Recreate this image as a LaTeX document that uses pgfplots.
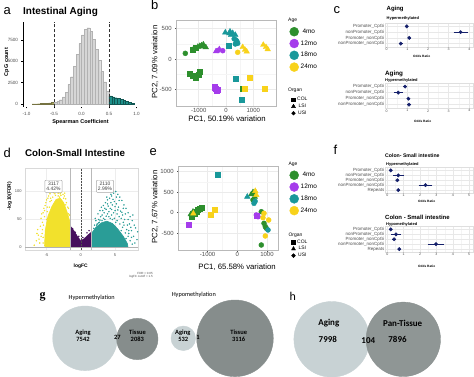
\documentclass[border=0pt]{standalone}
\usepackage{pgfplots}
\pgfplotsset{compat=1.18}
\usepackage{fontspec}
\setmainfont{Liberation Sans}
\newfontfamily\carlito{Carlito}
\newfontfamily\lserif{Liberation Serif}
\definecolor{g4}{HTML}{2D8F2D}
\definecolor{p12}{HTML}{A53CEB}
\definecolor{t18}{HTML}{19989A}
\definecolor{y24}{HTML}{F8D21B}
\definecolor{vy}{HTML}{F2E12C}
\definecolor{vp}{HTML}{46105E}
\definecolor{vt}{HTML}{2A9D97}
\definecolor{hteal}{HTML}{1C8F89}
\definecolor{holive}{HTML}{A7A35E}
\definecolor{navy}{HTML}{15206B}
\definecolor{agc}{HTML}{C8D2D4}
\definecolor{tsc}{HTML}{868D8C}
\definecolor{tk}{HTML}{4D4D4D}
\newcommand{\fs}[1]{\fontsize{#1}{#1}\selectfont}
\pgfplotsset{
  every axis/.append style={scale only axis, anchor=north west,
    /pgf/number format/assume math mode=true, /pgf/number format/1000 sep={}, scaled ticks=false},
  pca/.style={
    width=100bp, axis line style={gray!55, line width=0.6bp},
    grid=both, minor tick num=1,
    major grid style={gray!16, line width=0.5bp}, minor grid style={gray!8, line width=0.3bp},
    tick align=outside, major tick length=1.5bp, minor tick length=0pt, tick pos=left,
    tick style={gray!60!black, line width=0.4bp},
    tick label style={font=\fs{6}, text=tk},
    xticklabel style={inner sep=0.6bp},
    xtick={-1000,0,1000},
    legend image code/.code={\draw[##1] plot coordinates {(0bp,0bp)};},
    legend style={draw=none, fill=none, inner sep=0pt, font=\fs{6.5}, row sep=2.8bp, column sep=1bp, nodes={inner sep=1bp}},
  },
  orglegend/.style={hide axis, width=5bp, height=5bp, xmin=0, xmax=1, ymin=0, ymax=1,
    legend image code/.code={\draw[##1] plot coordinates {(0bp,0bp)};},
    legend style={at={(0,1)}, anchor=north west, draw=none, fill=none, inner sep=0pt, font=\fs{5}, row sep=0.4bp, column sep=1bp, nodes={inner sep=0.7bp}}},
  sq/.style={only marks, mark=square*, mark size=2.5bp, forget plot},
  tri/.style={only marks, mark=triangle*, mark size=3.2bp, forget plot},
  ci/.style={only marks, mark=*, mark size=2.5bp, forget plot},
  forest/.style={width=87.5bp, y dir=reverse, axis line style={gray!25, line width=0.3bp},
    xmajorgrids, ymajorgrids, xminorgrids, minor x tick num=1,
    major grid style={gray!18, line width=0.4bp}, minor grid style={gray!9, line width=0.3bp},
    major tick length=0pt, minor tick length=0pt,
    xticklabel style={font=\fs{3.6}, text=tk, inner sep=1bp},
    yticklabel style={font=\fs{4.5}, text=tk, inner sep=1bp},
    ytick={1,2,3,4,5}},
  fpt/.style={only marks, mark=*, mark size=1.7bp, color=navy,
    error bars/.cd, x dir=both, x explicit,
    error bar style={line width=0.5bp, navy}, error mark options={mark size=1.1bp, navy, line width=0.5bp}},
  overlay/.style={at={(0bp,377bp)}, width=474bp, height=377bp, xmin=0, xmax=474, ymin=0, ymax=377,
    y dir=reverse, hide axis, clip=false},
}
\begin{document}
\begin{tikzpicture}
\path[use as bounding box] (0,0) rectangle (474bp,377bp);

% ---------------- a: histogram
\begin{axis}[at={(23bp,355bp)}, width=117bp, height=85bp,
  xmin=-1.064, xmax=1.064, ymin=-352, ymax=9624,
  axis lines=left, axis line style={-}, x axis line style={draw=none},
  y axis line style={black, line width=0.5bp},
  ybar, bar width=0.05, bar shift=0pt,
  xtick={-1,-0.5,0,0.5,1}, xticklabels={-1.0,-0.5,0.0,0.5,1.0},
  ytick={0,2500,5000,7500},
  tick align=outside, major tick length=1.5bp, tick style={black, line width=0.4bp},
  tick label style={font=\fs{4.6}, text=tk}]
\addplot[fill=holive, draw=holive!70!black, line width=0.2bp] coordinates {
(-0.875,15) (-0.825,25) (-0.775,35) (-0.725,50) (-0.675,70) (-0.625,95) (-0.575,130) (-0.525,170)};
\addplot[fill=gray!32, draw=gray!60, line width=0.25bp] coordinates {
(-0.475,230) (-0.425,320) (-0.375,500) (-0.325,850) (-0.275,1350) (-0.225,2300) (-0.175,3200)
(-0.125,4400) (-0.075,5800) (-0.025,7100) (0.025,8100) (0.075,8800) (0.125,8950) (0.175,8500)
(0.225,7600) (0.275,6400) (0.325,5100) (0.375,3800) (0.425,2600) (0.475,1500)};
\addplot[fill=hteal, draw=hteal!60!black, line width=0.2bp] coordinates {
(0.525,950) (0.575,850) (0.625,750) (0.675,640) (0.725,530) (0.775,420) (0.825,300) (0.875,180) (0.925,60)};
\addplot[sharp plot, densely dashed, line width=0.7bp, black!80] coordinates {(-0.5,-352) (-0.5,9624)};
\addplot[sharp plot, densely dashed, line width=0.7bp, black!80] coordinates {(0.5,-352) (0.5,9624)};
\end{axis}

% ---------------- b: PCA
\begin{axis}[pca, at={(176.7bp,356.3bp)}, height=85.3bp,
  xmin=-1806, xmax=1857, ymin=-770, ymax=628, ytick={-500,0,500},
  legend style={at={(1.128,0.926)}, anchor=north west}]
\addplot[sq, color=g4] coordinates {(-1319,-246) (-1220,-279) (-1124,-300) (-1000,-262) (-978,-208) (-1230,160) (-1120,178) (600,-480)};
\addplot[tri, color=g4] coordinates {(-1030,200) (-900,222) (-830,238) (-740,192) (-960,212) (-1180,172) (-880,205)};
\addplot[ci, color=g4] coordinates {(-1491,93)};
\addplot[sq, color=p12] coordinates {(-428,-454) (-366,-482) (-304,-508) (-340,-520) (-400,-470)};
\addplot[tri, color=p12] coordinates {(-366,125) (-245,160)};
\addplot[ci, color=p12] coordinates {(-121,136) (-300,140)};
\addplot[tri, color=t18] coordinates {(-26,435) (147,450) (245,425) (341,395) (183,395) (120,420)};
\addplot[ci, color=t18] coordinates {(366,311) (428,257) (341,246) (400,290) (300,330)};
\addplot[sq, color=t18] coordinates {(99,213) (366,-328) (560,-672)};
\addplot[ci, color=y24] coordinates {(428,110)};
\addplot[tri, color=y24] coordinates {(611,195) (696,150) (758,122) (1366,232) (1465,195) (1527,160)};
\addplot[sq, color=y24] coordinates {(879,-300) (680,-480) (1403,-480)};
\addlegendimage{only marks, mark=*, mark size=4.5bp, color=g4}\addlegendentry{4mo}
\addlegendimage{only marks, mark=*, mark size=4.5bp, color=p12}\addlegendentry{12mo}
\addlegendimage{only marks, mark=*, mark size=4.5bp, color=t18}\addlegendentry{18mo}
\addlegendimage{only marks, mark=*, mark size=4.5bp, color=y24}\addlegendentry{24mo}
\end{axis}
\begin{axis}[orglegend, at={(291.3bp,280.7bp)}]
\addlegendimage{only marks, mark=square*, mark size=1.9bp, black}\addlegendentry{COL}
\addlegendimage{only marks, mark=triangle*, mark size=2.3bp, black}\addlegendentry{LSI}
\addlegendimage{only marks, mark=*, mark size=1.9bp, black}\addlegendentry{USI}
\end{axis}

% ---------------- c: forest plots
\begin{axis}[forest, at={(385.5bp,354bp)}, height=24bp, xmin=-0.06, xmax=4.18, ymin=0.4, ymax=4.6,
  xtick={0,1,2,3,4}, yticklabels={Promoter\_CpGi,nonPromoter\_CpGi,Promoter\_nonCpGi,nonPromoter\_nonCpGi}]
\addplot[fpt] coordinates {(0.97,1) +- (0.03,0) (3.58,2) +- (0.28,0) (1.09,3) +- (0.03,0) (0.68,4) +- (0.04,0)};
\end{axis}
\begin{axis}[forest, at={(385.5bp,294bp)}, height=25.3bp, xmin=-0.06, xmax=4.18, ymin=0.4, ymax=4.6,
  xtick={0,1,2,3,4}, yticklabels={Promoter\_CpGi,nonPromoter\_CpGi,Promoter\_nonCpGi,nonPromoter\_nonCpGi}]
\addplot[fpt] coordinates {(0.89,1) +- (0.03,0) (0.56,2) +- (0.16,0) (1.05,3) +- (0.03,0) (1.08,4) +- (0.03,0)};
\end{axis}

% ---------------- d: volcano
\begin{axis}[at={(25bp,209bp)}, width=113bp, height=82bp, xmin=-8.15, xmax=8.35, ymin=-4.5, ymax=142,
  axis line style={gray!30, line width=0.4bp}, grid=major, major grid style={gray!14, line width=0.4bp},
  xtick={-5,0,5}, ytick={0,50,100}, tick label style={font=\fs{4}, text=tk}, major tick length=0pt, tick pos=left]
\addplot[fill=vy, draw=vy, line width=0.6bp] coordinates {(-1.5,0) (-1.5,42) (-2.0,63) (-2.5,80) (-3.0,88) (-3.6,86) (-4.2,74) (-4.8,56) (-5.2,30) (-5.3,3) (-5.1,0)} -- cycle;
\addplot[only marks, mark=*, mark size=0.5bp, color=vy] coordinates {
(-5.6,45) (-5.9,38) (-6.2,22) (-6.5,12) (-6.0,8) (-5.7,60) (-5.4,70) (-5.1,80) (-4.8,88) (-4.5,96)
(-4.2,100) (-3.9,104) (-3.5,108) (-3.1,103) (-2.8,99) (-2.4,92) (-2.1,80) (-1.8,70) (-1.65,58) (-5.2,75)
(-4.7,92) (-4.0,98) (-3.3,97) (-2.6,95) (-6.8,4) (-6.3,32) (-5.8,52) (-5.5,18) (-4.9,72) (-4.4,88)
(-3.6,113) (-4.1,108) (-2.9,106) (-2.2,87) (-1.9,72) (-6.1,15) (-5.3,55) (-5.0,85) (-4.6,100) (-3.8,96)
(-3.0,96) (-5.65,25) (-5.45,40) (-6.4,25) (-2.35,97) (-3.4,110) (-4.35,104) (-5.5,62) (-5.3,66)
(-4.9,64) (-4.5,82) (-4.1,90) (-3.7,93) (-3.3,92) (-2.9,93) (-2.5,88) (-2.2,76) (-1.8,60) (-5.5,8)
(-5.8,20) (-5.6,32) (-5.0,50) (-4.6,72) (-4.3,84) (-3.1,90)};
\addplot[fill=vt, draw=vt, line width=0.6bp] coordinates {(1.5,0) (1.5,24) (2.2,36) (3.0,44) (3.8,47) (4.6,43) (5.4,33) (6.2,20) (6.8,7) (6.9,0)} -- cycle;
\addplot[only marks, mark=*, mark size=0.5bp, color=vt] coordinates {
(2.1,52) (2.5,60) (2.8,66) (3.0,72) (3.3,75) (3.6,80) (3.9,85) (4.2,88) (4.5,92) (4.8,97)
(5.1,100) (5.4,95) (5.7,90) (6.0,84) (6.3,76) (6.6,70) (6.9,62) (7.2,55) (7.5,48) (7.8,40)
(8.0,35) (7.4,30) (7.0,25) (6.8,40) (6.4,50) (6.1,58) (5.8,65) (5.5,72) (5.2,78) (4.9,82)
(4.6,76) (4.3,70) (4.0,74) (3.7,68) (3.4,62) (3.1,58) (2.6,50) (5.0,66) (5.3,60) (5.9,52)
(6.2,45) (6.7,32) (7.7,20) (8.2,14) (7.9,8) (2.2,48) (2.9,55) (3.5,70) (4.1,64) (4.4,80)
(4.7,86) (5.6,84) (6.5,60) (7.1,42) (7.6,58) (8.3,28) (5.2,90) (4.4,95) (3.8,90) (6.2,70)
(5.0,73) (5.4,67) (6.0,63) (4.5,68) (3.9,78) (3.2,66) (2.7,45) (2.3,40) (7.3,36) (6.9,50)
(1.9,34) (2.4,42) (2.8,49) (3.3,52) (3.7,56) (4.1,55) (4.5,58) (4.9,52) (5.3,48) (5.7,42)
(6.1,36) (6.5,26) (6.9,20) (7.2,12) (7.5,6) (3.5,50) (4.3,52) (5.1,45) (5.9,30) (6.6,16)
(2.0,40) (3.1,48) (4.8,62) (5.6,55) (6.3,40) (7.0,30) (3.9,60) (4.6,50) (2.6,44) (7.4,18)};
\addplot[fill=vp, draw=vp, line width=0.4bp] coordinates {(-1.5,0) (-1.5,38) (-1.0,30) (-0.5,20) (0,12) (0.5,16) (1.0,22) (1.5,27) (1.5,0)} -- cycle;
\addplot[only marks, mark=*, mark size=0.5bp, color=vp] coordinates {(-1.2,34) (-0.8,27) (-0.3,20) (0.3,18) (0.9,26) (1.2,30)};
\addplot[sharp plot, gray!55, line width=0.5bp] coordinates {(-1.5,-4.5) (-1.5,142)};
\addplot[sharp plot, gray!55, line width=0.5bp] coordinates {(1.5,-4.5) (1.5,142)};
\addplot[sharp plot, densely dotted, black!70, line width=0.5bp] coordinates {(0,-4.5) (0,142)};
\addplot[sharp plot, gray!60, line width=0.4bp] coordinates {(-8.15,1.3) (8.35,1.3)};
\end{axis}

% ---------------- e: PCA
\begin{axis}[pca, at={(178.7bp,210.3bp)}, height=83.3bp,
  xmin=-1973, xmax=1394, ymin=-910, ymax=1122, ytick={-500,0,500,1000},
  legend style={at={(1.108,0.954)}, anchor=north west}]
\addplot[sq, color=g4] coordinates {(-1549,-98) (-1434,-15) (-1323,66) (-1212,122) (-1266,107) (-1380,30)};
\addplot[tri, color=g4] coordinates {(-1569,-39) (-1492,24) (471,449) (529,498) (586,390) (560,460)};
\addplot[ci, color=g4] coordinates {(529,310) (808,24) (899,-259) (943,-341) (976,-380) (808,-788)};
\addplot[sq, color=p12] coordinates {(-1636,-283) (640,-70)};
\addplot[ci, color=p12] coordinates {(640,-56) (697,-98)};
\addplot[sq, color=t18] coordinates {(-650,937)};
\addplot[tri, color=t18] coordinates {(337,390)};
\addplot[ci, color=t18] coordinates {(562,229) (1034,-422) (600,280)};
\addplot[sq, color=y24] coordinates {(-909,-56) (-761,66)};
\addplot[tri, color=y24] coordinates {(-1480,-20) (606,529) (640,432)};
\addplot[ci, color=y24] coordinates {(899,-15) (865,-122) (1057,-178) (943,-568)};
\addlegendimage{only marks, mark=*, mark size=4.5bp, color=g4}\addlegendentry{4mo}
\addlegendimage{only marks, mark=*, mark size=4.5bp, color=p12}\addlegendentry{12mo}
\addlegendimage{only marks, mark=*, mark size=4.5bp, color=t18}\addlegendentry{18mo}
\addlegendimage{only marks, mark=*, mark size=4.5bp, color=y24}\addlegendentry{24mo}
\end{axis}
\begin{axis}[orglegend, at={(291.3bp,138.3bp)}]
\addlegendimage{only marks, mark=square*, mark size=1.9bp, black}\addlegendentry{COL}
\addlegendimage{only marks, mark=triangle*, mark size=2.3bp, black}\addlegendentry{LSI}
\addlegendimage{only marks, mark=*, mark size=1.9bp, black}\addlegendentry{USI}
\end{axis}

% ---------------- f: forest plots
\begin{axis}[forest, at={(385.5bp,210bp)}, height=26bp, xmin=-0.11, xmax=5.23, ymin=0.3, ymax=5.6,
  xtick={0,1,2,3,4,5}, yticklabels={Promoter\_CpGi,nonPromoter\_CpGi,Promoter\_nonCpGi,nonPromoter\_nonCpGi,Repeats}]
\addplot[fpt] coordinates {(0.21,1) +- (0.03,0) (0.67,2) +- (0.26,0) (0.61,3) +- (0.04,0) (2.33,4) +- (0.35,0) (0.67,5) +- (0.04,0)};
\end{axis}
\begin{axis}[forest, at={(385.5bp,151bp)}, height=26bp, xmin=-0.11, xmax=5.23, ymin=0.3, ymax=5.6,
  xtick={0,1,2,3,4,5}, yticklabels={Promoter\_CpGi,nonPromoter\_CpGi,Promoter\_nonCpGi,nonPromoter\_nonCpGi,Repeats}]
\addplot[fpt] coordinates {(0.21,1) +- (0.03,0) (0.53,2) +- (0.22,0) (0.41,3) +- (0.04,0) (2.97,4) +- (0.43,0) (0.73,5) +- (0.04,0)};
\end{axis}

% ---------------- g, h: Venn circles
\begin{axis}[overlay]
\addplot[only marks, mark=*, mark size=32.3bp, color=agc] coordinates {(85,338.3)};
\addplot[only marks, mark=*, mark size=20.7bp, color=tsc] coordinates {(137.3,339)};
\addplot[only marks, mark=*, mark size=12.3bp, color=agc] coordinates {(183.3,338.3)};
\addplot[only marks, mark=*, mark size=38.3bp, color=tsc] coordinates {(235,338.3)};
\addplot[only marks, mark=*, mark size=37.8bp, color=agc] coordinates {(331.7,339.3)};
\addplot[only marks, mark=*, mark size=37.2bp, color=tsc, opacity=0.92] coordinates {(403.3,339.3)};
\end{axis}

% ---------------- overlay: text
\begin{axis}[overlay]
% panel letters
\node[anchor=base west, font=\fs{13}] at (axis cs:0,15) {a};
\node[anchor=base west, font=\fs{13}] at (axis cs:147.5,10) {b};
\node[anchor=base west, font=\fs{13}] at (axis cs:330,14) {c};
\node[anchor=base west, font=\fs{13}] at (axis cs:0,157) {d};
\node[anchor=base west, font=\fs{13}] at (axis cs:146,155) {e};
\node[anchor=base west, font=\fs{13}] at (axis cs:330,154) {f};
\node[anchor=base west, font=\lserif\bfseries\fs{12}] at (axis cs:36,298.5) {g};
\node[anchor=base west, font=\carlito\fs{12}] at (axis cs:286,300) {h};

% titles
\node[anchor=base west, inner sep=0pt, font=\bfseries\fs{10}] at (axis cs:23,15) {Intestinal Aging};
\node[anchor=base west, inner sep=0pt, font=\bfseries\fs{9.8}] at (axis cs:25,156) {Colon-Small Intestine};

% a labels
\node[rotate=90, font=\bfseries\fs{5.5}] at (axis cs:6.7,62) {CpG count};
\node[font=\bfseries\fs{5.5}] at (axis cs:80.5,121.7) {Spearman Coefficient};

% b labels
\node[rotate=90, font=\fs{7.8}] at (axis cs:155,62) {PC2, 7.09\% variation};
\node[font=\fs{7.8}] at (axis cs:227,119.5) {PC1, 50.19\% variation};
\node[anchor=base west, inner sep=0pt, font=\fs{5}] at (axis cs:288,21.5) {Age};
\node[anchor=base west, inner sep=0pt, font=\fs{5}] at (axis cs:288,91) {Organ};

% e labels
\node[rotate=90, font=\fs{7.8}] at (axis cs:155,207) {PC2, 7.67\% variation};
\node[font=\fs{7.8}] at (axis cs:237,267.5) {PC1, 65.58\% variation};
\node[anchor=base west, inner sep=0pt, font=\fs{5}] at (axis cs:288.3,165) {Age};
\node[anchor=base west, inner sep=0pt, font=\fs{5}] at (axis cs:288.3,236.5) {Organ};

% c labels
\node[anchor=base west, inner sep=0pt, font=\bfseries\fs{6}] at (axis cs:386.5,11) {Aging};
\node[anchor=base west, inner sep=0pt, font=\bfseries\fs{4}] at (axis cs:386.5,19.5) {Hypermethylated};
\node[font=\bfseries\fs{3.2}] at (axis cs:421.7,56.7) {Odds Ratio};
\node[anchor=base west, inner sep=0pt, font=\bfseries\fs{6.3}] at (axis cs:385,75.5) {Aging};
\node[anchor=base west, inner sep=0pt, font=\bfseries\fs{4}] at (axis cs:385,81) {Hypermethylated};
\node[font=\bfseries\fs{3.2}] at (axis cs:422.7,121.7) {Odds Ratio};

% f labels
\node[anchor=base west, inner sep=0pt, font=\bfseries\fs{5.2}] at (axis cs:385,157.5) {Colon- Small intestine};
\node[anchor=base west, inner sep=0pt, font=\bfseries\fs{4}] at (axis cs:386,165.5) {Hypermethylated};
\node[font=\bfseries\fs{3.2}] at (axis cs:426.7,201) {Odds Ratio};
\node[anchor=base west, inner sep=0pt, font=\bfseries\fs{6}] at (axis cs:385,219.5) {Colon - Small intestine};
\node[anchor=base west, inner sep=0pt, font=\bfseries\fs{4}] at (axis cs:386,225) {Hypomethylated};
\node[font=\bfseries\fs{3.2}] at (axis cs:426.7,266.7) {Odds Ratio};

% d labels
\node[rotate=90, font=\bfseries\fs{5}] at (axis cs:9.5,196) {-log10(FDR)};
\node[font=\bfseries\fs{5}] at (axis cs:80.7,266.7) {logFC};
\node[draw=gray!70, fill=white, rounded corners=0.8bp, align=center, inner sep=1.5bp, font=\fs{5}, text=black!75] at (axis cs:53.5,186.3) {3117\\[0.6bp]4.42\%};
\node[draw=gray!70, fill=white, rounded corners=0.8bp, align=center, inner sep=1.5bp, font=\fs{5}, text=black!75] at (axis cs:105,186.3) {2110\\[0.6bp]2.99\%};
\node[anchor=north east, align=right, inner sep=0pt, font=\fs{3}, text=black!70] at (axis cs:153,272.5) {FDR = 0.05\\logFC cutoff = 1.5};

% g texts
\node[font=\carlito\fs{6.3}] at (axis cs:91.7,297.5) {Hypermethylation};
\node[font=\carlito\fs{6.3}] at (axis cs:193.8,295) {Hypomethylation};
\node[font=\carlito\bfseries\fs{6.5}] at (axis cs:83,332.5) {Aging};
\node[font=\carlito\bfseries\fs{6.5}] at (axis cs:83,339.3) {7542};
\node[font=\carlito\bfseries\fs{6.5}] at (axis cs:117.3,337.5) {27};
\node[font=\carlito\bfseries\fs{6.5}] at (axis cs:137.5,332.5) {Tissue};
\node[font=\carlito\bfseries\fs{6.5}] at (axis cs:137.3,339.5) {2083};
\node[font=\carlito\bfseries\fs{6.5}] at (axis cs:182.8,332.5) {Aging};
\node[font=\carlito\bfseries\fs{6.5}] at (axis cs:183.3,339.5) {532};
\node[font=\carlito\bfseries\fs{6.5}] at (axis cs:198,337.5) {1};
\node[font=\carlito\bfseries\fs{6.5}] at (axis cs:238.7,332.5) {Tissue};
\node[font=\carlito\bfseries\fs{6.5}] at (axis cs:238.7,339.5) {3116};
% h texts
\node[font=\carlito\bfseries\fs{9}] at (axis cs:328.8,323.3) {Aging};
\node[font=\carlito\bfseries\fs{9}] at (axis cs:327.8,339.2) {7998};
\node[font=\carlito\bfseries\fs{9}] at (axis cs:368.3,340.3) {104};
\node[font=\carlito\bfseries\fs{9}] at (axis cs:402.7,323.3) {Pan-Tissue};
\node[font=\carlito\bfseries\fs{9}] at (axis cs:397.5,339.2) {7896};
\end{axis}
\end{tikzpicture}
\end{document}
